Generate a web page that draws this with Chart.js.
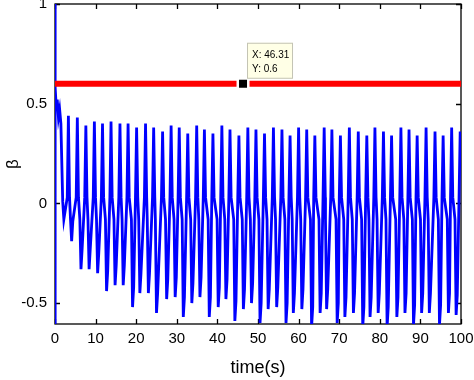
<!DOCTYPE html>
<html>
<head>
<meta charset="utf-8">
<script src="https://cdn.jsdelivr.net/npm/chart.js@4/dist/chart.umd.min.js"></script>
<style>
html, body { margin: 0; padding: 0; background: #fff; }
</style>
</head>
<body>
<canvas id="beta-curve" width="474" height="380"></canvas>
<script>
// axis ticks
var xTicks = [0, 10, 20, 30, 40, 50, 60, 70, 80, 90, 100];
var yTicks = [-0.5, 0, 0.5, 1];

// start of the response (t, beta)
var startT = [0, 0, 0.08, 0.35, 0.55, 0.85, 1.15, 1.45];
var startY = [1, -0.62, 0.58, 0.47, 0.52, 0.43, 0.47, 0.40];

// oscillation minima / maxima
var troughT = [1.9, 4.1, 6.4, 8.4, 10.5, 12.7, 14.8, 16.8, 19.1, 20.9, 23.0, 25.0, 27.5, 29.6, 31.6, 33.7,
    35.7, 38.0, 40.2, 42.1, 44.3, 46.4, 48.4, 50.5, 52.5, 54.6, 56.9, 58.7, 60.8, 63.2, 65.3, 66.9,
    69.5, 71.4, 73.5, 75.8, 77.6, 79.6, 81.8, 84.2, 86.2, 88.3, 90.3, 92.2, 94.7, 96.9, 98.8];
var troughY = [0.01, -0.19, -0.33, -0.33, -0.35, -0.44, -0.41, -0.41, -0.52, -0.45, -0.45, -0.55, -0.48, -0.47, -0.57, -0.50,
    -0.47, -0.57, -0.52, -0.48, -0.59, -0.53, -0.50, -0.60, -0.53, -0.52, -0.60, -0.55, -0.53, -0.62, -0.55, -0.53,
    -0.60, -0.57, -0.55, -0.62, -0.57, -0.55, -0.62, -0.57, -0.55, -0.61, -0.55, -0.55, -0.61, -0.55, -0.56];
var peakT = [3.3, 5.5, 7.6, 9.7, 11.7, 13.8, 16.0, 18.0, 20.1, 22.3, 24.3, 26.5, 28.6, 30.6, 32.7, 34.9,
    36.8, 38.9, 41.1, 43.1, 45.3, 47.5, 49.5, 51.6, 53.8, 55.9, 57.9, 60.0, 62.0, 64.0, 66.3, 68.2,
    70.3, 72.5, 74.7, 76.8, 78.8, 80.9, 82.9, 85.2, 87.2, 89.2, 91.4, 93.6, 95.6, 97.7, 99.8];
var peakY = [0.44, 0.43, 0.39, 0.41, 0.40, 0.41, 0.40, 0.40, 0.38, 0.40, 0.38, 0.36, 0.39, 0.38, 0.35, 0.39,
    0.37, 0.35, 0.39, 0.37, 0.34, 0.38, 0.37, 0.35, 0.38, 0.37, 0.34, 0.38, 0.37, 0.34, 0.38, 0.37,
    0.34, 0.38, 0.36, 0.34, 0.38, 0.36, 0.34, 0.38, 0.37, 0.34, 0.38, 0.36, 0.34, 0.38, 0.36];
// levels where the narrow spikes begin
var upperKnee = 0.03;
var lowerKnee = -0.08;

// reference level and data tip
var refT = [0, 100];
var refY = [0.6, 0.6];
var tipX = 46.31;
var tipY = 0.6;

// each spike: knee -> extreme -> knee
var half = 0.28;
var betaPts = [];
startT.forEach(function (t, i) { betaPts.push({x: t, y: startY[i]}); });
troughT.forEach(function (t, i) {
    if (i > 0) betaPts.push({x: t - half, y: lowerKnee});
    betaPts.push({x: t, y: troughY[i]});
    betaPts.push({x: t + half, y: Math.min(lowerKnee, troughY[i] + 0.1)});
    var p = peakT[i];
    betaPts.push({x: p - half, y: upperKnee});
    betaPts.push({x: p, y: peakY[i]});
    if (p + half < 100) betaPts.push({x: p + half, y: upperKnee});
});
var refPts = refT.map(function (t, i) { return {x: t, y: refY[i]}; });

var font = '"Liberation Sans", Arial, Helvetica, sans-serif';

// matlab style box with inward ticks
var frame = {
    id: 'frame',
    beforeDatasetsDraw: function (chart) {
        var c = chart.ctx, a = chart.chartArea, sx = chart.scales.x, sy = chart.scales.y;
        c.save();
        c.strokeStyle = '#000';
        c.lineWidth = 1.3;
        c.strokeRect(a.left, a.top, a.right - a.left, a.bottom - a.top);
        c.beginPath();
        xTicks.forEach(function (v) {
            var px = Math.round(sx.getPixelForValue(v)) + 0.5;
            c.moveTo(px, a.bottom); c.lineTo(px, a.bottom - 5);
            c.moveTo(px, a.top); c.lineTo(px, a.top + 5);
        });
        yTicks.forEach(function (v) {
            var py = Math.round(sy.getPixelForValue(v)) + 0.5;
            c.moveTo(a.left, py); c.lineTo(a.left + 5, py);
            c.moveTo(a.right, py); c.lineTo(a.right - 5, py);
        });
        c.stroke();
        c.restore();
    }
};

var dataTip = {
    id: 'dataTip',
    afterDatasetsDraw: function (chart) {
        var c = chart.ctx, sx = chart.scales.x, sy = chart.scales.y;
        var cx = sx.getPixelForValue(tipX), cy = sy.getPixelForValue(tipY);
        c.save();
        c.fillStyle = '#fff';
        c.fillRect(cx - 6.5, cy - 6.5, 13, 13);
        c.fillStyle = '#000';
        c.fillRect(cx - 4, cy - 4, 8, 8);
        var bx = cx + 4, by = cy - 41, bw = 46, bh = 36;
        c.fillStyle = '#ffffe6';
        c.fillRect(bx, by, bw, bh);
        c.strokeStyle = '#c4c4b4';
        c.lineWidth = 1;
        c.strokeRect(bx + 0.5, by + 0.5, bw - 1, bh - 1);
        c.fillStyle = '#000';
        c.font = '10px ' + font;
        c.textBaseline = 'middle';
        c.fillText('X: ' + tipX, bx + 5, by + 12);
        c.fillText('Y: ' + tipY, bx + 5, by + 26);
        c.restore();
    }
};

var ctx = document.getElementById('beta-curve');
var myChart = new Chart(ctx, {
    type: 'line',
    data: {
        datasets: [{
            data: refPts,
            borderColor: '#ff0000',
            borderWidth: 6,
            pointRadius: 0,
            fill: false
        }, {
            data: betaPts,
            borderColor: '#0000ff',
            borderWidth: 2.8,
            pointRadius: 0,
            tension: 0,
            fill: false,
            clip: 0
        }]
    },
    options: {
        responsive: false,
        animation: false,
        layout: {padding: {left: 0, right: 13, top: 4, bottom: 0}},
        plugins: {legend: {display: false}, tooltip: {enabled: false}, title: {display: false}},
        scales: {
            x: {
                type: 'linear',
                min: 0,
                max: 100,
                afterBuildTicks: function (s) { s.ticks = xTicks.map(function (v) { return {value: v}; }); },
                afterFit: function (s) { s.height = 56; s.paddingLeft = 0; s.paddingRight = 0; },
                grid: {display: false, drawTicks: false},
                border: {display: false},
                ticks: {color: '#000', font: {family: font, size: 15}, padding: 6, maxRotation: 0, autoSkip: false,
                    callback: function (v) { return String(v); }},
                title: {display: true, text: 'time(s)', color: '#000', font: {family: font, size: 18},
                    padding: {top: 0, bottom: 1}}
            },
            y: {
                type: 'linear',
                min: -0.605,
                max: 1,
                afterBuildTicks: function (s) { s.ticks = yTicks.map(function (v) { return {value: v}; }); },
                afterFit: function (s) { s.width = 55; s.paddingTop = 0; s.paddingBottom = 0; },
                grid: {display: false, drawTicks: false},
                border: {display: false},
                ticks: {color: '#000', font: {family: font, size: 15}, padding: 8,
                    callback: function (v) { return String(v); }},
                title: {display: true, text: 'β', color: '#000', font: {family: font, size: 17},
                    padding: {top: 3, bottom: 0}}
            }
        }
    },
    plugins: [frame, dataTip]
});
</script>
</body>
</html>
